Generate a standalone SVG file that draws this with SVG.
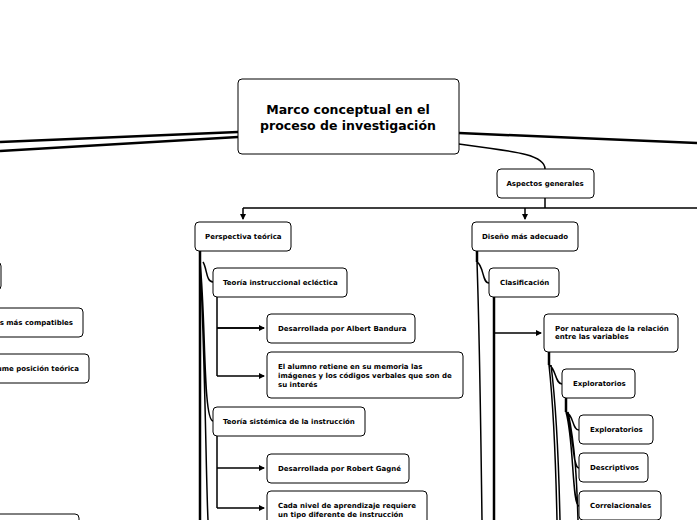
<svg xmlns="http://www.w3.org/2000/svg" width="697" height="520" viewBox="0 0 697 520">
<defs>
<marker id="ah" markerWidth="6" markerHeight="6" refX="5" refY="3" orient="auto" markerUnits="userSpaceOnUse"><path d="M0,0 L6,3 L0,6 z" fill="#000"/></marker>
<style>
.n{fill:#fff;stroke:#000;stroke-width:1}
.t{font-family:"DejaVu Sans",sans-serif;font-weight:bold;font-size:7px;fill:#000}
.c{fill:none;stroke:#000;stroke-width:1.5}
.k{fill:none;stroke:#000;stroke-width:2.5}
</style>
</defs>
<rect width="697" height="520" fill="#fff"/>
<g id="connectors">
<path class="k" d="M238,132 L0,142"/>
<path class="k" d="M238,137 L0,151"/>
<path class="k" d="M459,133 L697,143"/>
<path class="c" d="M459,144 C520,152 545,155 545,169"/>
<path class="c" d="M545,198 V208 M243,208 H697"/>
<path class="c" d="M243,208 V219" marker-end="url(#ah)"/>
<path class="c" d="M525,208 V219" marker-end="url(#ah)"/>
<path class="k" d="M200,251 V520"/>
<path class="c" d="M203,262 C207,268 206,282 213,282 M200,262 C206,320 203,420 213,421 M200,262 C205,350 206,480 208,520"/>
<path class="c" d="M217,297 V376 M217,328 H264 M217,376 H264" marker-end="url(#ah)"/>
<path class="c" d="M217,328 H264" marker-end="url(#ah)"/>
<path class="c" d="M217,436 V508 M217,508 H264" marker-end="url(#ah)"/>
<path class="c" d="M217,468 H264" marker-end="url(#ah)"/>
<path class="k" d="M477,251 V262"/>
<path class="c" d="M477,262 C484,266 482,283 489,283 M477,262 C480,350 481,450 482,520"/>
<path class="k" d="M494,297 V520"/>
<path class="c" d="M494,333 H541" marker-end="url(#ah)"/>
<path class="k" d="M549,352 V365"/>
<path class="c" d="M549,365 C556,368 555,384 562,384 M549,365 C555,420 556,480 557,520 M551,365 C558,420 559,480 560,520"/>
<path class="k" d="M566,398 V412"/>
<path class="c" d="M566,412 C574,415 572,430 579,430 M566,412 C574,430 572,468 579,468 M566,412 C574,440 572,506 579,506 M568,412 C576,450 577,490 578,520"/>
</g>
<g id="main"><rect class="n" x="238" y="79" width="221" height="75" rx="4"/>
<text x="348" y="114" text-anchor="middle" style="font-family:'DejaVu Sans',sans-serif;font-weight:bold;font-size:12.5px">Marco conceptual en el</text>
<text x="348" y="130" text-anchor="middle" style="font-family:'DejaVu Sans',sans-serif;font-weight:bold;font-size:12.5px">proceso de investigación</text></g>
<g id="aspectos"><rect class="n" x="497" y="169" width="97" height="29" rx="4"/><text class="t" x="545" y="186" text-anchor="middle">Aspectos generales</text></g>
<g id="perspectiva"><rect class="n" x="195" y="222" width="96" height="29" rx="4"/><text class="t" x="205" y="239">Perspectiva teórica</text></g>
<g id="diseno"><rect class="n" x="472" y="222" width="106" height="29" rx="4"/><text class="t" x="482" y="239">Diseño más adecuado</text></g>
<g id="tie"><rect class="n" x="213" y="268" width="134" height="29" rx="4"/><text class="t" x="223" y="285">Teoría instruccional ecléctica</text></g>
<g id="bandura"><rect class="n" x="267" y="314" width="148" height="29" rx="4"/><text class="t" x="278" y="331">Desarrollada por Albert Bandura</text></g>
<g id="alumno"><rect class="n" x="267" y="352" width="196" height="46" rx="4"/><text class="t" x="278" y="369">El alumno retiene en su memoria las</text><text class="t" x="278" y="378">imágenes y los códigos verbales que son de</text><text class="t" x="278" y="387">su interés</text></g>
<g id="tsi"><rect class="n" x="213" y="407" width="152" height="29" rx="4"/><text class="t" x="223" y="424">Teoría sistémica de la instrucción</text></g>
<g id="gagne"><rect class="n" x="267" y="454" width="142" height="29" rx="4"/><text class="t" x="278" y="471">Desarrollada por Robert Gagné</text></g>
<g id="cada"><rect class="n" x="267" y="491" width="160" height="40" rx="4"/><text class="t" x="278" y="508">Cada nivel de aprendizaje requiere</text><text class="t" x="278" y="517">un tipo diferente de instrucción</text></g>
<g id="clasif"><rect class="n" x="489" y="268" width="70" height="29" rx="4"/><text class="t" x="500" y="285">Clasificación</text></g>
<g id="natur"><rect class="n" x="544" y="314" width="134" height="38" rx="4"/><text class="t" x="555" y="331">Por naturaleza de la relación</text><text class="t" x="555" y="339">entre las variables</text></g>
<g id="expl1"><rect class="n" x="562" y="369" width="73" height="29" rx="4"/><text class="t" x="573" y="386">Exploratorios</text></g>
<g id="expl2"><rect class="n" x="579" y="415" width="74" height="29" rx="4"/><text class="t" x="590" y="432">Exploratorios</text></g>
<g id="desc"><rect class="n" x="579" y="453" width="69" height="29" rx="4"/><text class="t" x="590" y="470">Descriptivos</text></g>
<g id="corr"><rect class="n" x="579" y="491" width="82" height="29" rx="4"/><text class="t" x="590" y="508">Correlacionales</text></g>
<g id="left1"><rect class="n" x="-60" y="262" width="61" height="28" rx="4"/></g>
<g id="left2"><rect class="n" x="-80" y="308" width="163" height="29" rx="4"/><text class="t" x="73" y="325" text-anchor="end">s más compatibles</text></g>
<g id="left3"><rect class="n" x="-80" y="354" width="169" height="29" rx="4"/><text class="t" x="79" y="371" text-anchor="end">ume posición teórica</text></g>
<g id="left4"><rect class="n" x="-80" y="514" width="159" height="29" rx="4"/></g>
</svg>
